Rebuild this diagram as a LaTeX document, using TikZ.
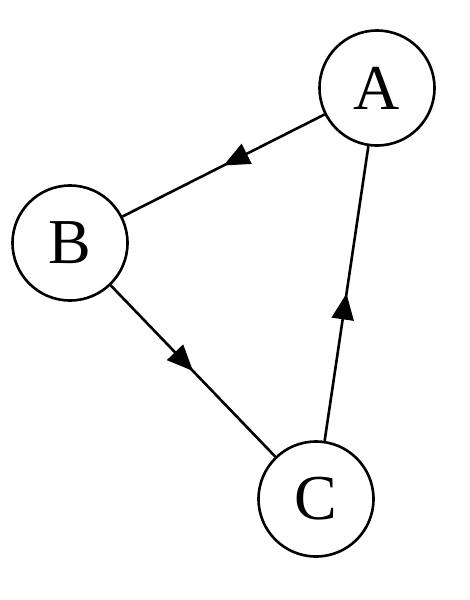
\documentclass[tikz,border=0pt]{standalone}
\usepackage{fontspec}
\setmainfont{Liberation Serif}
\usetikzlibrary{arrows.meta,decorations.markings}
\begin{document}
\begin{tikzpicture}[x=1pt,y=-1pt,
  vertex/.style={circle,draw,line width=2.6pt,minimum size=115pt,inner sep=0pt,font=\fontsize{64}{64}\selectfont},
  edge/.style={line width=2.6pt,postaction={decorate},
    decoration={markings,mark=at position 0.5 with {\arrow{Triangle[length=26pt,width=22pt]}}}}]
\useasboundingbox (0,0) rectangle (470,600);
\node[vertex] (A) at (377,88) {A};
\node[vertex] (B) at (70,243) {B};
\node[vertex] (C) at (316,499) {C};
\draw[edge] (A) -- (B);
\draw[edge] (B) -- (C);
\draw[edge] (C) -- (A);
\end{tikzpicture}
\end{document}
